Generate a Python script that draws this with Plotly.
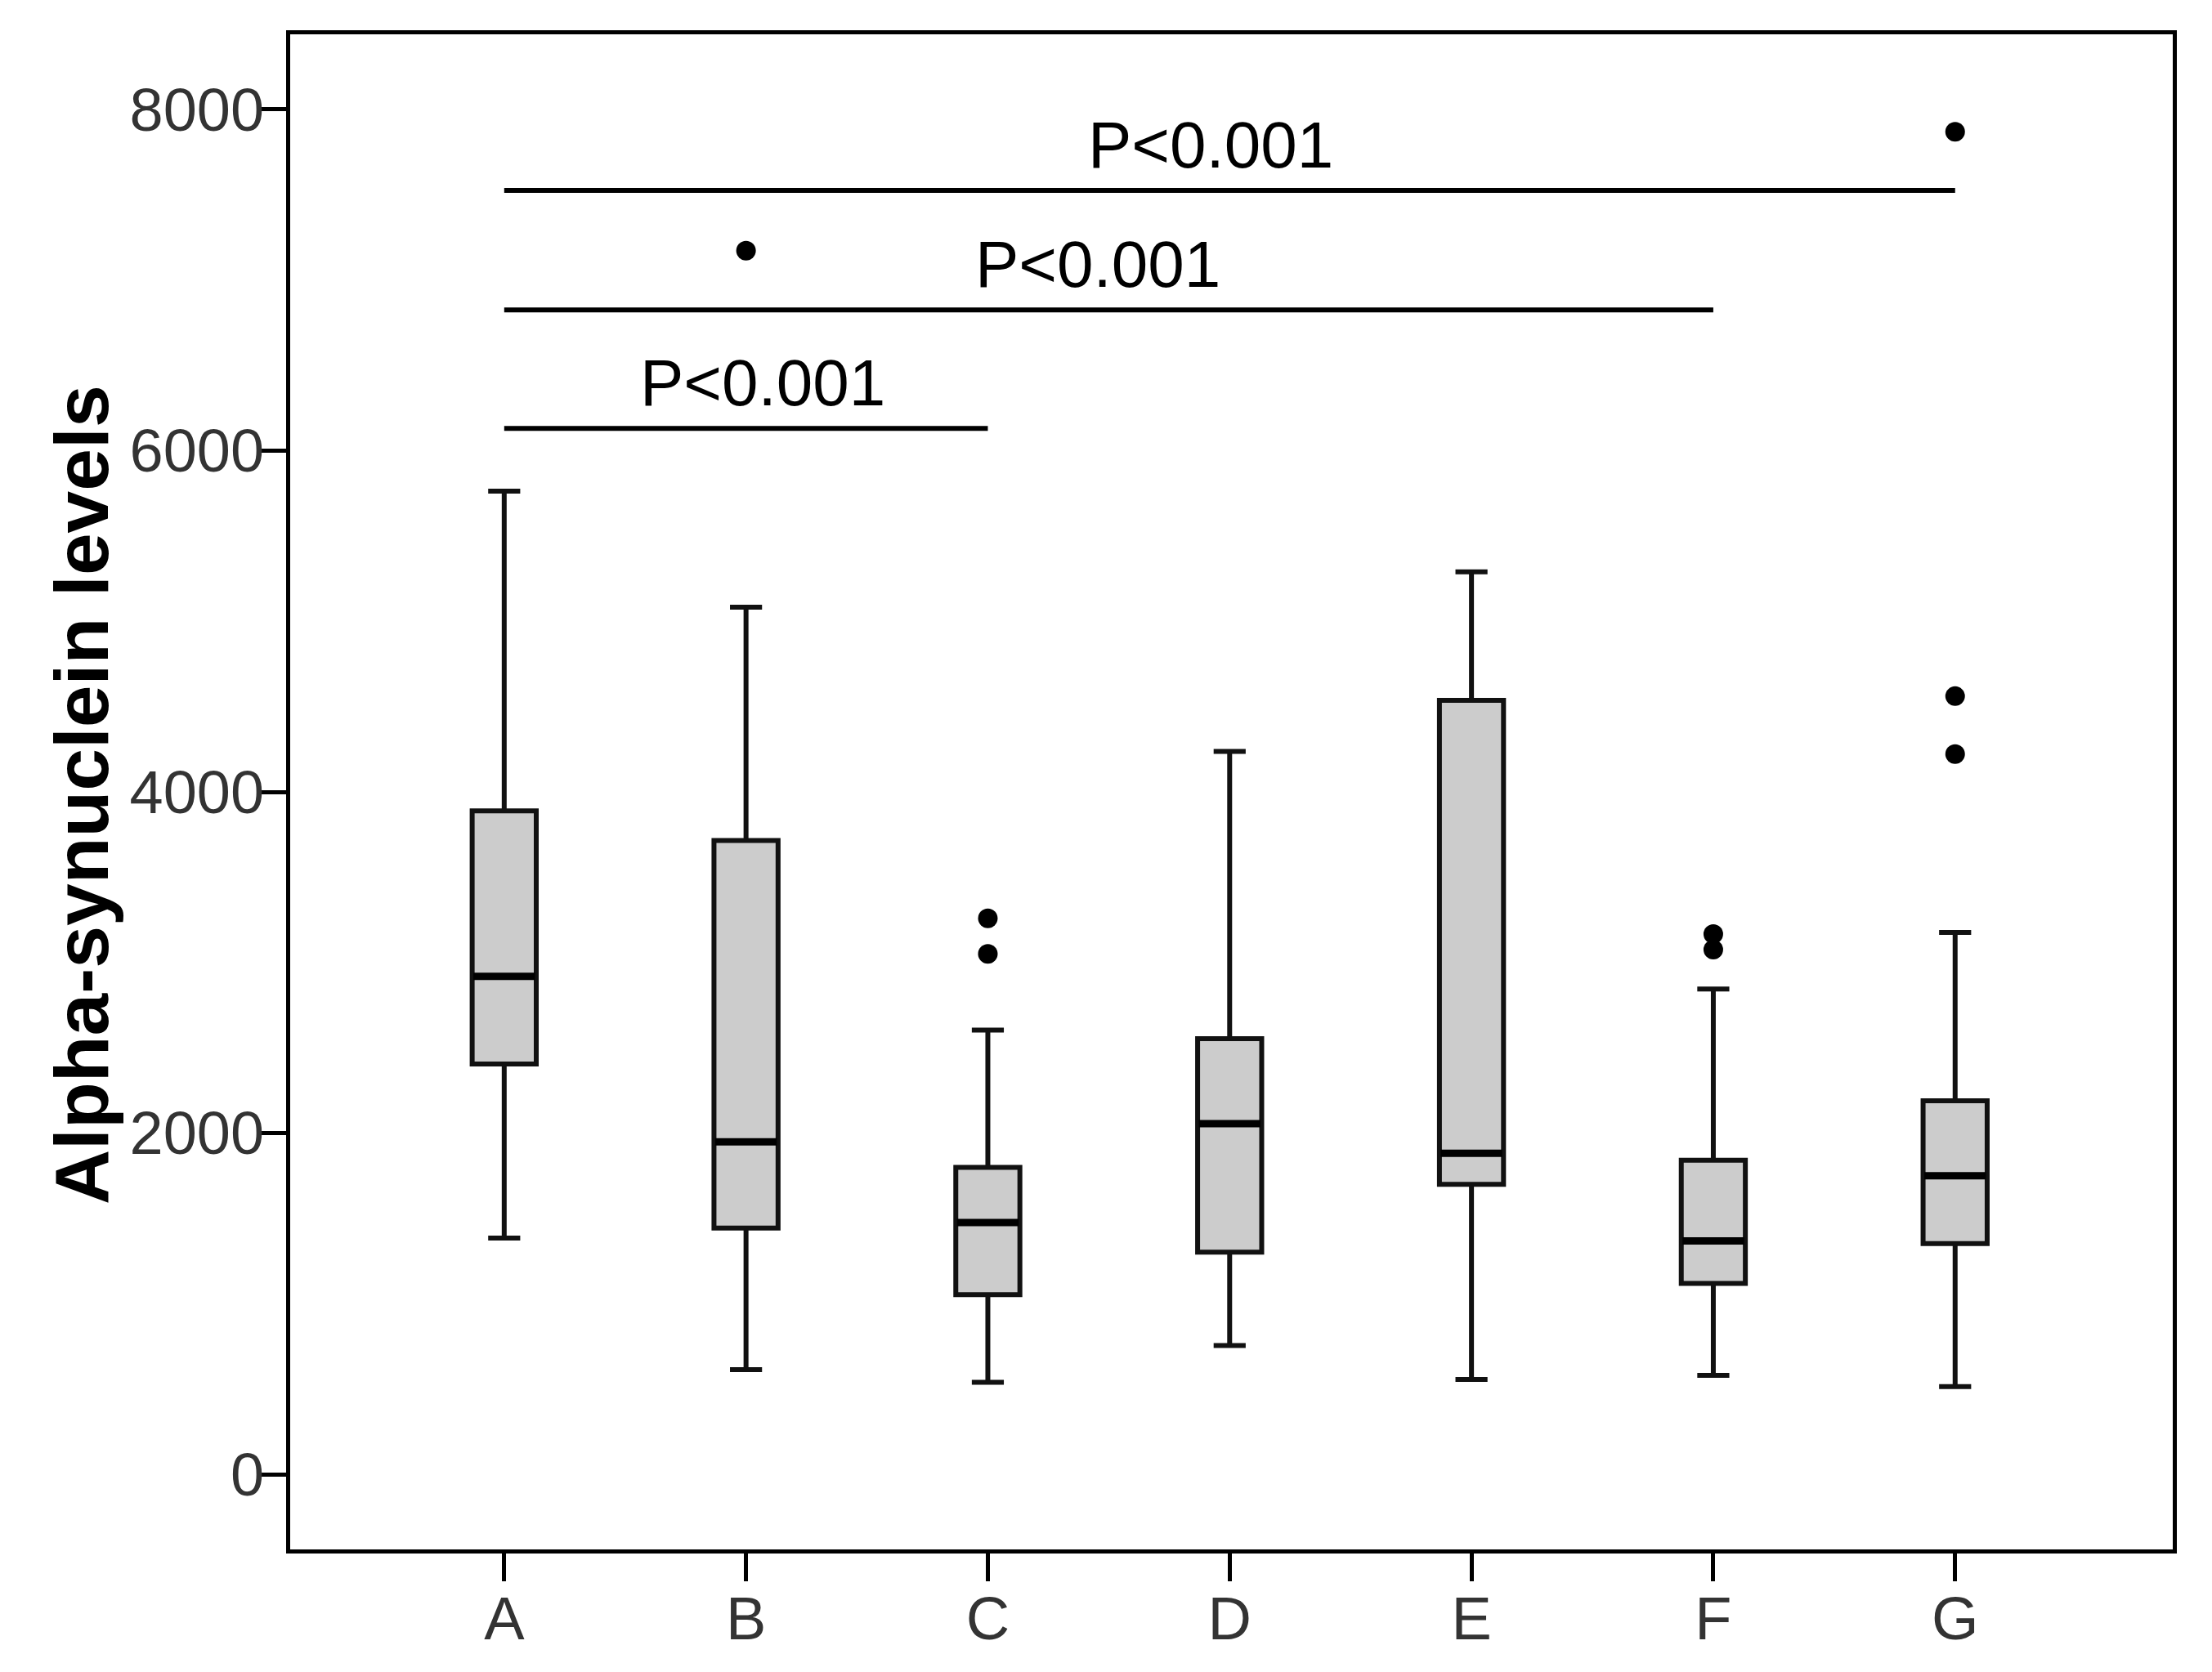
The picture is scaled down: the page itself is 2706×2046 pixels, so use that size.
import plotly.graph_objs as go

# box summary per group
groups = ['A', 'B', 'C', 'D', 'E', 'F', 'G']
lower_whisker = [1385, 614, 539, 755, 556, 580, 514]
q1 = [2405, 1443, 1053, 1302, 1700, 1119, 1352]
median = [2919, 1949, 1476, 2056, 1882, 1368, 1750]
q3 = [3889, 3715, 1799, 2554, 4536, 1841, 2189]
upper_whisker = [5763, 5083, 2604, 4237, 5290, 2844, 3176]

# outliers
outlier_group = ['B', 'C', 'C', 'F', 'F', 'G', 'G', 'G']
outlier_value = [7172, 3259, 3051, 3167, 3076, 7869, 4561, 4221]

# significance bars
sig_start = ['A', 'A', 'A']
sig_end = ['C', 'F', 'G']
sig_level = [6130, 6825, 7525]
sig_text = ['P<0.001', 'P<0.001', 'P<0.001']
sig_label_x = [1.07, 2.455, 2.92]

fig = go.Figure()

fig.add_trace(go.Box(
    x=groups, q1=q1, median=median, q3=q3,
    lowerfence=lower_whisker, upperfence=upper_whisker,
    fillcolor='#cccccc', line=dict(color='#111111', width=6),
    width=0.265, whiskerwidth=0.5, boxpoints=False,
    showlegend=False, hoverinfo='skip'))

# thicker median bar drawn on top
fig.add_trace(go.Box(
    x=groups, q1=median, median=median, q3=median,
    lowerfence=median, upperfence=median,
    fillcolor='black', line=dict(color='black', width=9),
    width=0.255, whiskerwidth=0, boxpoints=False,
    showlegend=False, hoverinfo='skip'))

fig.add_trace(go.Scatter(
    x=outlier_group, y=outlier_value, mode='markers',
    marker=dict(color='black', size=24), showlegend=False))

for s, e, lev, txt, tx in zip(sig_start, sig_end, sig_level, sig_text, sig_label_x):
    fig.add_trace(go.Scatter(x=[s, e], y=[lev, lev], mode='lines',
                             line=dict(color='black', width=6),
                             showlegend=False, hoverinfo='skip'))
    fig.add_annotation(x=tx, y=lev, text=txt, showarrow=False,
                       yanchor='bottom', yshift=9,
                       font=dict(family='Liberation Sans', size=80, color='black'))

# y axis title
fig.add_annotation(xref='paper', yref='paper', x=-0.111, y=0.498,
                   text='<b>Alpha-synuclein levels</b>', textangle=-90,
                   showarrow=False, xanchor='center', yanchor='middle',
                   font=dict(family='Liberation Sans', size=93, color='black'))

fig.update_layout(
    width=2706, height=2046,
    margin=dict(l=347, r=56, t=34, b=158),
    plot_bgcolor='white', paper_bgcolor='white',
    font=dict(family='Liberation Sans', color='#333333'),
    boxmode='overlay',
)

fig.update_xaxes(
    type='category', range=[-0.885, 6.9],
    showline=True, linecolor='black', linewidth=5, mirror=True,
    ticks='outside', ticklen=34, tickwidth=5, tickcolor='black',
    ticklabelstandoff=-18,
    tickfont=dict(size=74, color='#333333'), showgrid=False)

fig.update_yaxes(
    range=[-440, 8440], tickvals=[0, 2000, 4000, 6000, 8000],
    showline=True, linecolor='black', linewidth=5, mirror=True,
    ticks='outside', ticklen=34, tickwidth=5, tickcolor='black',
    ticklabelstandoff=-22,
    tickfont=dict(size=74, color='#333333'), showgrid=False, zeroline=False)

fig.write_html("out.html")
